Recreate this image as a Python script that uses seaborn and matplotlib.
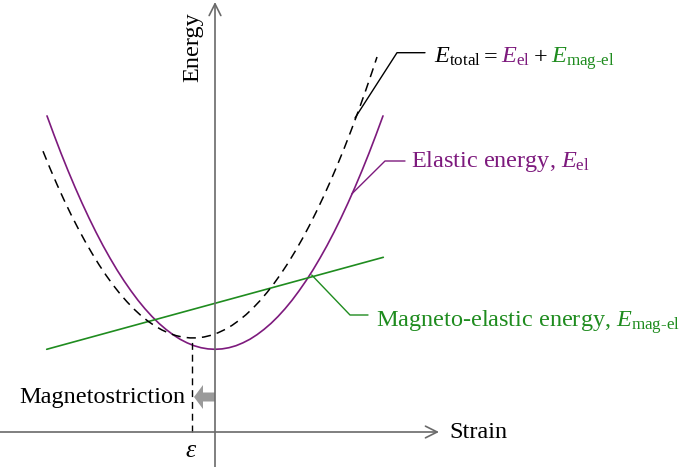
import matplotlib
matplotlib.use("Agg")
import matplotlib.pyplot as plt
import seaborn as sns
import pandas as pd

# ---- data (strain / energy in arbitrary units) ----
el_strain = [-168, -161, -154, -147, -140, -133, -126, -119, -112, -105, -98, -91, -84, -77,
             -70, -63, -56, -49, -42, -35, -28, -21, -14, -7, 0,
             7, 14, 21, 28, 35, 42, 49, 56, 63, 70, 77, 84, 91, 98, 105, 112, 119, 126,
             133, 140, 147, 154, 161, 168]
el_energy = [316.1, 297.1, 278.8, 261.4, 244.8, 229.0, 214.0, 199.8, 186.4, 173.9, 162.1, 151.2,
             141.1, 131.7, 123.2, 115.5, 108.6, 102.6, 97.3, 92.8, 89.2, 86.3, 84.3, 83.1, 82.7,
             83.1, 84.3, 86.3, 89.2, 92.8, 97.3, 102.6, 108.6, 115.5, 123.2, 131.7, 141.1, 151.2,
             162.1, 173.9, 186.4, 199.8, 214.0, 229.0, 244.8, 261.4, 278.8, 297.1, 316.1]

mag_strain = [-168.3, 168.3]
mag_energy = [82.7, 174.7]

tot_strain = [-172, -165, -158, -151, -144, -137, -130, -123, -116, -109, -102, -95, -88, -81,
              -74, -67, -60, -53, -46, -39, -32, -25, -18, -11, -4, 3, 10, 17, 24, 31, 38, 45,
              52, 59, 66, 73, 80, 87, 94, 101, 108, 115, 122, 129, 136, 143, 150, 157, 162]
tot_energy = [280.8, 263.7, 247.5, 232.1, 217.5, 203.8, 190.8, 178.7, 167.3, 156.8, 147.1, 138.2,
              130.2, 122.9, 116.4, 110.8, 106.0, 102.0, 98.8, 96.4, 94.8, 94.1, 94.1, 95.0, 96.7,
              99.2, 102.5, 106.6, 111.6, 117.3, 123.9, 131.3, 139.5, 148.5, 158.3, 168.9, 180.4,
              192.6, 205.7, 219.6, 234.3, 249.8, 266.1, 283.2, 301.2, 320.0, 339.5, 359.9, 375.0]

eps_strain = -23
eps_energy = 94

PURPLE = "#7d1a7d"
GREEN = "#1f8c1f"
AXIS = "#6a6a6a"

sns.set_theme(style="white")
plt.rcParams["font.family"] = ["Liberation Serif", "DejaVu Serif"]
plt.rcParams["mathtext.fontset"] = "custom"
plt.rcParams["mathtext.rm"] = "Liberation Serif"
plt.rcParams["mathtext.it"] = "Liberation Serif:italic"
plt.rcParams["mathtext.bf"] = "Liberation Serif:bold"

fig = plt.figure(figsize=(6.85, 4.67), dpi=100)
ax = fig.add_axes([0, 0, 1, 1])

FS = 17.5

# curves
df_el = pd.DataFrame({"strain": el_strain, "energy": el_energy})
df_mag = pd.DataFrame({"strain": mag_strain, "energy": mag_energy})
df_tot = pd.DataFrame({"strain": tot_strain, "energy": tot_energy})

sns.lineplot(data=df_el, x="strain", y="energy", color=PURPLE, lw=1.2, sort=False, ax=ax)
sns.lineplot(data=df_mag, x="strain", y="energy", color=GREEN, lw=1.2, sort=False, ax=ax)
sns.lineplot(data=df_tot, x="strain", y="energy", color="black", lw=1.1, sort=False, ax=ax,
             linestyle=(0, (6, 4)))
ax.plot([eps_strain, eps_strain], [0, eps_energy], color="black", lw=1.0, linestyle=(0, (5, 3.5)))
ax.set_xlim(-215, 470)
ax.set_ylim(-35, 432)
ax.axis("off")

# axes with arrows
ax.annotate("", xy=(224, 0), xytext=(-215, 0),
            arrowprops=dict(arrowstyle="->,head_length=0.7,head_width=0.35", color=AXIS, lw=1.2,
                            shrinkA=0, shrinkB=0))
ax.annotate("", xy=(0, 430), xytext=(0, -35),
            arrowprops=dict(arrowstyle="->,head_length=0.7,head_width=0.35", color=AXIS, lw=1.2,
                            shrinkA=0, shrinkB=0))

# magnetostriction arrow
ax.arrow(0, 35, -21, 0, width=9, head_width=24, head_length=9, length_includes_head=True,
         color="#9a9a9a", lw=0)

# leader lines
ax.plot([210, 182, 140], [379.3, 379.3, 314], color="black", lw=1.0)
ax.plot([190, 170, 136.7], [271, 271, 238], color=PURPLE, lw=1.0)
ax.plot([153, 135, 96.7], [117, 117, 157], color=GREEN, lw=1.0)

# texts
ax.text(-22, 385, "Energy", rotation=90, ha="center", va="center", fontsize=FS, color="black")
ax.text(234, 0, "Strain", ha="left", va="center", fontsize=FS, color="black")
ax.text(-24, -19, r"$\varepsilon$", ha="center", va="center", fontsize=FS + 1, color="black")
ax.text(-30, 35, "Magnetostriction", ha="right", va="center", fontsize=FS, color="black")

ax.text(196, 265, r"Elastic energy, $E_{\mathrm{el}}$", ha="left", va="baseline",
        fontsize=FS, color=PURPLE)
ax.text(161, 105, r"Magneto-elastic energy, $E_{\text{mag-el}}$", ha="left", va="baseline",
        fontsize=FS, color=GREEN)

# total label built piece by piece on a common baseline
pieces = [(r"$E_{\mathrm{total}}$", "black", 0),
          ("=", "black", 3),
          (r"$E_{\mathrm{el}}$", PURPLE, 3),
          ("+", "black", 4),
          (r"$E_{\text{mag-el}}$", GREEN, 4)]
renderer = fig.canvas.get_renderer()
x_cur = 219
base_y = 369
for txt, col, gap in pieces:
    t = ax.text(x_cur + gap, base_y, txt, ha="left", va="baseline", fontsize=FS, color=col)
    bb = t.get_window_extent(renderer=renderer)
    x_cur = ax.transData.inverted().transform((bb.x1, 0))[0]

fig.savefig("out.png", dpi=100)
